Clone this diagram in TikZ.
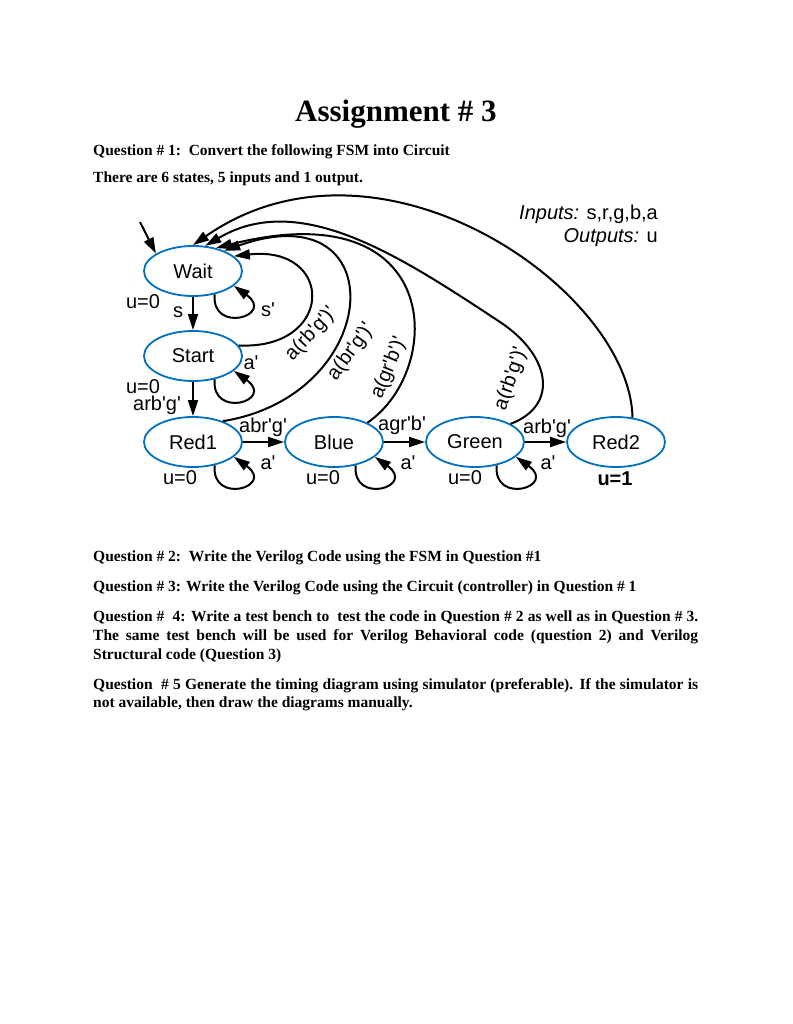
\documentclass[tikz,border=0pt]{standalone}
\usepackage{fontspec}
\setmainfont{Liberation Serif}
\newfontfamily\diagfont{Liberation Sans}
\usetikzlibrary{arrows.meta, shapes.geometric}
\definecolor{stateblue}{RGB}{0,112,192}

\tikzset{
    fsmstate/.style={draw=stateblue, ellipse, line width=1.8pt, minimum width=98pt,
        minimum height=50pt, inner sep=0pt, font=\diagfont\fontsize{20}{24}\selectfont},
    cond/.style={font=\diagfont\fontsize{20}{24}\selectfont, inner sep=0pt},
    link/.style={-{Triangle[length=16pt, width=10pt]}, line width=2pt},
    title/.style={font=\bfseries\fontsize{31}{36}\selectfont, anchor=base, inner sep=0pt},
    question/.style={font=\bfseries\fontsize{15.5}{18.7}\selectfont, anchor=base west, inner sep=0pt}
}

\begin{document}
\begin{tikzpicture}[x=1pt, y=-1pt]
    \fill[white] (0,0) rectangle (792,1024);
    \useasboundingbox (0,0) rectangle (792,1024);

    \node[title] (heading) at (396,122) {Assignment \# 3};
    \node[question] (q1) at (93,156) {Question \# 1:\ \ Convert the following FSM into Circuit};
    \node[question] (q1b) at (93,183) {There are 6 states, 5 inputs and 1 output.};

    % FSM
    \node[fsmstate] (wait) at (193,271) {Wait};
    \node[fsmstate] (start) at (193,356) {Start};
    \node[fsmstate] (red1) at (193,442) {Red1};
    \node[fsmstate] (blue) at (334,442) {Blue};
    \node[fsmstate] (green) at (475,442) {Green};
    \node[fsmstate] (red2) at (616,442) {Red2};

    \node[cond, anchor=base east] (inputs) at (658,220) {\textit{Inputs:} s,r,g,b,a};
    \node[cond, anchor=base east] (outputs) at (658,243) {\textit{Outputs:} u};

    \coordinate (init) at (140,222);
    \draw[link] (init) -- (wait.155);
    \draw[link] (wait) -- (start);
    \draw[link] (start) -- (red1);
    \draw[link] (red1) -- (blue);
    \draw[link] (blue) -- (green);
    \draw[link] (green) -- (red2);

    % self loops
    \draw[link] (wait.-47) .. controls +(-4,40) and +(42,30) .. (wait.-20);
    \draw[link] (start.-47) .. controls +(-4,40) and +(42,30) .. (start.-20);
    \draw[link] (red1.-47) .. controls +(-4,40) and +(42,30) .. (red1.-20);
    \draw[link] (blue.-47) .. controls +(-4,40) and +(42,30) .. (blue.-20);
    \draw[link] (green.-47) .. controls +(-4,40) and +(42,30) .. (green.-20);

    % back to Wait
    \coordinate (green-bend) at (500,322);
    \draw[link] (start.13) .. controls (335,350) and (335,245) .. (wait.20);
    \draw[link] (red1.35) .. controls (385,395) and (395,190) .. (wait.33);
    \draw[link] (blue.30) .. controls (445,370) and (445,190) .. (wait.45);
    \draw[link] (green.27) .. controls (560,405) and (550,355) .. (green-bend)
        .. controls (400,256) and (300,190) .. (wait.64);
    \draw[link] (red2.56) .. controls (630,290) and (380,115) .. (wait.90);

    \node[cond] (u-wait) at (143,302) {u=0};
    \node[cond] (c-s) at (178,312) {s};
    \node[cond] (c-s-not) at (268,310) {s'};
    \node[cond] (c-start-loop) at (251,363) {a'};
    \node[cond] (u-start) at (143,387) {u=0};
    \node[cond] (c-start-red1) at (157,405) {arb'g'};
    \node[cond] (c-red1-blue) at (263,427) {abr'g'};
    \node[cond] (c-blue-green) at (402,425) {agr'b'};
    \node[cond] (c-green-red2) at (547,428) {arb'g'};
    \node[cond] (c-red1-loop) at (268,463) {a'};
    \node[cond] (c-blue-loop) at (408,463) {a'};
    \node[cond] (c-green-loop) at (548,463) {a'};
    \node[cond] (u-red1) at (180,478) {u=0};
    \node[cond] (u-blue) at (323,478) {u=0};
    \node[cond] (u-green) at (465,478) {u=0};
    \node[cond, font=\diagfont\bfseries\fontsize{20}{24}\selectfont] (u-red2) at (615,479) {u=1};

    \node[cond, rotate=47] (c-start-wait) at (311,334) {a(rb'g')'};
    \node[cond, rotate=54] (c-red1-wait) at (351,352) {a(br'g')'};
    \node[cond, rotate=68] (c-blue-wait) at (389,368) {a(gr'b')'};
    \node[cond, rotate=71] (c-green-wait) at (511,379) {a(rb'g')'};

    % questions
    \node[question] (q2) at (93,561.7) {Question \# 2:\ \ Write the Verilog Code using the FSM in Question \#1};
    \node[question] (q3) at (93,591.7) {Question \# 3: Write the Verilog Code using the Circuit (controller) in Question \# 1};
    \node[question] (q4a) at (93,621.7) {\makebox[605pt][s]{Question \#\ \ 4: Write a test bench to\ \ test the code in Question \# 2 as well as in Question \# 3.}};
    \node[question] (q4b) at (93,640.4) {\makebox[605pt][s]{The same test bench will be used for Verilog Behavioral code (question 2) and Verilog}};
    \node[question] (q4c) at (93,659.1) {Structural code (Question 3)};
    \node[question] (q5a) at (93,689) {\makebox[605pt][s]{Question\ \ \# 5 Generate the timing diagram using simulator (preferable). If the simulator is}};
    \node[question] (q5b) at (93,707.7) {not available, then draw the diagrams manually.};
\end{tikzpicture}
\end{document}
